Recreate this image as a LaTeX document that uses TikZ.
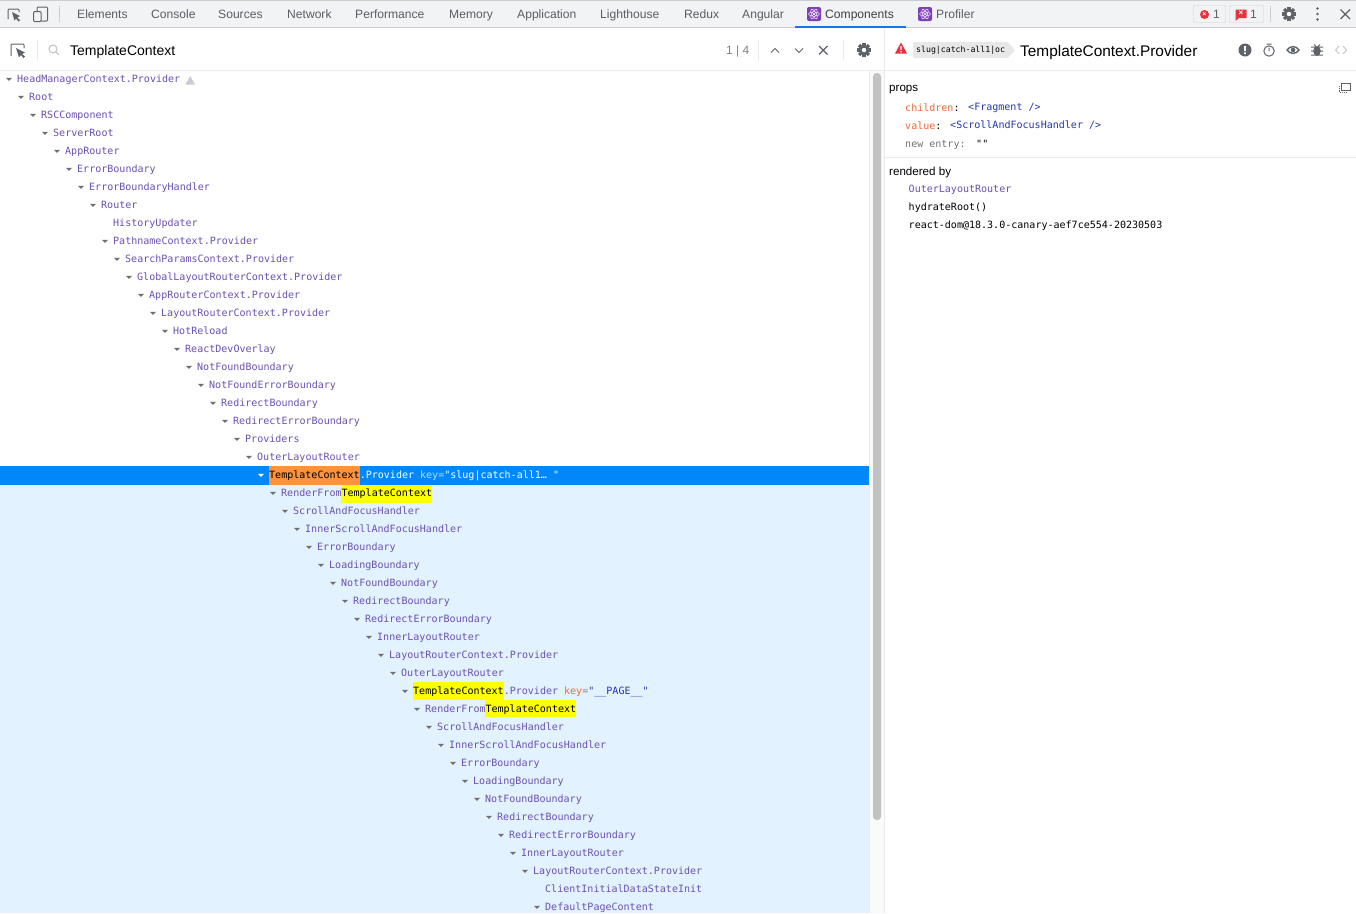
\documentclass[tikz,border=0pt]{standalone}
\usepackage{fontspec}
\setmainfont{Liberation Sans}
\newfontfamily\treefont{DejaVu Sans Mono}
\usetikzlibrary{shapes.geometric}
\definecolor{barbg}{HTML}{F1F3F4}
\definecolor{barline}{HTML}{CBCDD0}
\definecolor{paneline}{HTML}{EAEAEA}
\definecolor{tabtext}{HTML}{5A5F66}
\definecolor{tabblue}{HTML}{1A73E8}
\definecolor{iconcol}{HTML}{5F6368}
\definecolor{compcol}{HTML}{6A51B2}
\definecolor{selblue}{HTML}{0088FA}
\definecolor{sublight}{HTML}{E3F2FF}
\definecolor{hitorange}{HTML}{FB923C}
\definecolor{hityellow}{HTML}{FFFF00}
\definecolor{keycol}{HTML}{EE6A35}
\definecolor{valcol}{HTML}{2438A8}
\definecolor{keysel}{HTML}{B5DBFF}
\definecolor{treegrey}{HTML}{6E6E6E}
\definecolor{reactcol}{HTML}{7D3FB8}
\definecolor{warnred}{HTML}{E5333F}
\newcommand{\hit}[1]{\textcolor{black}{#1}}
\newcommand{\keyname}{\textcolor{keycol}{key}\textcolor{gray}{=}}
\tikzset{
  tabtxt/.style={anchor=base west,inner sep=0pt,text=tabtext,font=\fontsize{12.1}{14}\selectfont},
  treetxt/.style={anchor=base west,inner sep=0pt,text=compcol,font=\treefont\fontsize{10.03}{12}\selectfont},
  sidetxt/.style={anchor=base west,inner sep=0pt,text=black,font=\fontsize{11.6}{14}\selectfont},
  monotxt/.style={treetxt,text=black},
  reacticon/.pic={
    \fill[reactcol,rounded corners=2pt] (-7,-7) rectangle (7,7);
    \foreach \ang in {0,60,120}
      \draw[white!85!reactcol,line width=.6pt,rotate=\ang] (0,0) ellipse (5.5 and 2.2);
    \fill[white] (0,0) circle (1.1);
  },
  gearicon/.pic={
    \fill[iconcol] (0,0) circle (5);
    \foreach \ang in {0,45,...,315}
      \fill[iconcol,rotate=\ang] (-1.6,-7) rectangle (1.6,-4);
    \fill[white] (0,0) circle (2.2);
  }
}
\begin{document}
\begin{tikzpicture}[x=1pt,y=-1pt]
\useasboundingbox (0,0) rectangle (1356,913);
\fill[white] (0,0) rectangle (1356,913);
% tab bar
\fill[barbg] (0,0) rectangle (1356,27);
\fill[barline] (0,0) rectangle (1356,1);
\fill[barline] (0,27) rectangle (1356,28);
\fill[tabblue] (795,26) rectangle (906,28);
\draw[barline] (59,6) -- (59,22);
\draw[barline] (1270.5,6) -- (1270.5,22);
\foreach \tabx/\tablbl/\tabname in {77/Elements/elements,151/Console/console,218/Sources/sources,287/Network/network,355/Performance/performance,449/Memory/memory,517/Application/application,600/Lighthouse/lighthouse,684/Redux/redux,742/Angular/angular,936/Profiler/profiler}
  \node[tabtxt] (\tabname) at (\tabx,18) {\tablbl};
\node[tabtxt,text=black!75] (components) at (825,18) {Components};
\pic at (814,14) {reacticon};
\pic at (925,14) {reacticon};
% picker and device icons
\draw[iconcol,line width=1pt,rounded corners=1pt] (8,19) -- (8,9) -- (19,9) -- (19,12);
\fill[iconcol] (12,12) -- (20,16) -- (17,17.5) -- (20,20) -- (18.5,21.5) -- (16,18.5) -- (14.5,20.5) -- cycle;
\draw[iconcol,line width=1pt,rounded corners=1pt] (37,11) -- (37,7) -- (47.5,7) -- (47.5,21) -- (41,21);
\draw[iconcol,line width=1pt,rounded corners=1pt] (33.5,11.5) rectangle (41,21.5);
% error badges
\draw[barline,fill=barbg,rounded corners=1pt] (1193.5,5.5) rectangle (1225.5,22.5);
\draw[barline,fill=barbg,rounded corners=1pt] (1229.5,5.5) rectangle (1263.5,22.5);
\fill[warnred] (1204.5,14.5) circle (4.5);
\node[inner sep=0pt,text=white,font=\fontsize{7}{8}\selectfont\bfseries] (errx) at (1204.5,14.5) {×};
\node[tabtxt] (errnum) at (1213,18) {1};
\fill[warnred] (1235.5,9.5) rectangle (1246.5,18) (1235.5,18) -- (1235.5,21) -- (1239,18) -- cycle;
\node[inner sep=0pt,text=white,font=\fontsize{8}{8}\selectfont\bfseries] (warnx) at (1241,13.5) {×};
\node[tabtxt] (warnnum) at (1250,18) {1};
\pic at (1289,14) {gearicon};
\foreach \doty in {8.5,14,19.5}
  \fill[iconcol] (1317.5,\doty) circle (1.4);
\draw[iconcol,line width=1.3pt] (1340.5,9.5) -- (1350,19) (1350,9.5) -- (1340.5,19);
% search row
\fill[paneline] (0,70) rectangle (1356,71);
\fill[paneline] (884,28) rectangle (885,913);
\draw[paneline] (37.5,40) -- (37.5,60);
\draw[paneline] (758.5,40) -- (758.5,60);
\draw[paneline] (843.5,40) -- (843.5,60);
\draw[iconcol,line width=1pt,rounded corners=1pt] (11,56) -- (11,44) -- (24,44) -- (24,48);
\fill[iconcol] (16,48) -- (25,52.5) -- (22,54) -- (25,56.5) -- (23.5,58) -- (21,55) -- (19,57.5) -- cycle;
\draw[black!25,line width=1pt] (53,49) circle (4) (56,52) -- (59,55);
\node[anchor=base west,inner sep=0pt,font=\fontsize{14}{16}\selectfont] (searchtxt) at (70,55) {TemplateContext};
\node[anchor=base west,inner sep=0pt,text=black!50,font=\fontsize{12}{14}\selectfont] (matchnum) at (726,54) {1 | 4};
\draw[iconcol,line width=1pt] (771,52.5) -- (775,48.5) -- (779,52.5);
\draw[iconcol,line width=1pt] (795,48.5) -- (799,52.5) -- (803,48.5);
\draw[iconcol,line width=1.2pt] (819,46) -- (827.5,54.5) (827.5,46) -- (819,54.5);
\pic at (864,50) {gearicon};
% tree background
\fill[sublight] (0,485) rectangle (869,913);
\fill[selblue] (0,466) rectangle (869,485);
\fill[hitorange] (269,466) rectangle (360,485);
\fill[hityellow] (341,485) rectangle (432,503);
\fill[hityellow] (413,682) rectangle (504,700);
\fill[hityellow] (485,700) rectangle (576,717);
% scrollbar
\fill[black!2] (869,71) rectangle (884,913);
\draw[paneline] (869.5,71) -- (869.5,913);
\fill[black!24,rounded corners=3.5pt] (873,73) rectangle (881,820);
% tree rows
\foreach \dep/\lbl/\tricol [count=\row from 0] in {
  0/HeadManagerContext.Provider/treegrey,
  1/Root/treegrey,
  2/RSCComponent/treegrey,
  3/ServerRoot/treegrey,
  4/AppRouter/treegrey,
  5/ErrorBoundary/treegrey,
  6/ErrorBoundaryHandler/treegrey,
  7/Router/treegrey,
  8/HistoryUpdater/none,
  8/PathnameContext.Provider/treegrey,
  9/SearchParamsContext.Provider/treegrey,
  10/GlobalLayoutRouterContext.Provider/treegrey,
  11/AppRouterContext.Provider/treegrey,
  12/LayoutRouterContext.Provider/treegrey,
  13/HotReload/treegrey,
  14/ReactDevOverlay/treegrey,
  15/NotFoundBoundary/treegrey,
  16/NotFoundErrorBoundary/treegrey,
  17/RedirectBoundary/treegrey,
  18/RedirectErrorBoundary/treegrey,
  19/Providers/treegrey,
  20/OuterLayoutRouter/treegrey,
  21/\textcolor{white}{\hit{TemplateContext}.Provider \textcolor{keysel}{key=}"slug|catch-all1… "}/white,
  22/RenderFrom\hit{TemplateContext}/treegrey,
  23/ScrollAndFocusHandler/treegrey,
  24/InnerScrollAndFocusHandler/treegrey,
  25/ErrorBoundary/treegrey,
  26/LoadingBoundary/treegrey,
  27/NotFoundBoundary/treegrey,
  28/RedirectBoundary/treegrey,
  29/RedirectErrorBoundary/treegrey,
  30/InnerLayoutRouter/treegrey,
  31/LayoutRouterContext.Provider/treegrey,
  32/OuterLayoutRouter/treegrey,
  33/\hit{TemplateContext}.Provider \keyname\textcolor{valcol}{"\_\_PAGE\_\_"}/treegrey,
  34/RenderFrom\hit{TemplateContext}/treegrey,
  35/ScrollAndFocusHandler/treegrey,
  36/InnerScrollAndFocusHandler/treegrey,
  37/ErrorBoundary/treegrey,
  38/LoadingBoundary/treegrey,
  39/NotFoundBoundary/treegrey,
  40/RedirectBoundary/treegrey,
  41/RedirectErrorBoundary/treegrey,
  42/InnerLayoutRouter/treegrey,
  43/LayoutRouterContext.Provider/treegrey,
  44/ClientInitialDataStateInit/none,
  44/DefaultPageContent/treegrey}{
  \pgfmathsetmacro{\tx}{17+12*\dep}
  \pgfmathsetmacro{\ty}{82.5+18*\row}
  \node[treetxt] (row\row) at (\tx,\ty) {\lbl};
  \path[fill=\tricol] (\tx-11,\ty-4.7) -- (\tx-5,\ty-4.7) -- (\tx-8,\ty-1.5) -- cycle;
}
\fill[black!20] (190.2,76) -- (195,84.5) -- (185.4,84.5) -- cycle;
% right pane header
\fill[warnred] (901,42.5) -- (907,53.5) -- (895,53.5) -- cycle;
\fill[white] (900.4,46) rectangle (901.6,50) (900.4,51) rectangle (901.6,52.3);
\fill[black!9,rounded corners=1pt] (913,42) -- (1008,42) -- (1015,50) -- (1008,58) -- (913,58) -- cycle;
\node[anchor=base west,inner sep=0pt,font=\treefont\fontsize{8.2}{10}\selectfont] (crumb) at (916,52.5) {slug|catch-all1|oc};
\node[anchor=base west,inner sep=0pt,font=\fontsize{15.4}{18}\selectfont] (title) at (1020,56) {TemplateContext.Provider};
\fill[iconcol] (1245,50) circle (6.5);
\fill[white] (1244.1,46) rectangle (1245.9,51) (1244.1,52.3) rectangle (1245.9,54);
\draw[iconcol,line width=1pt] (1269,51) circle (5.2) (1269,51) -- (1269,47.5) (1266.5,44) -- (1271.5,44);
\draw[iconcol,line width=1.4pt] (1287,50) .. controls (1290,45.5) and (1296,45.5) .. (1299,50) .. controls (1296,54.5) and (1290,54.5) .. (1287,50) -- cycle;
\fill[iconcol] (1293,50) circle (2.3);
\fill[iconcol] (1317,51) ellipse (3.8 and 4.8);
\draw[iconcol,line width=1pt] (1311,47) -- (1323,47) (1311,51) -- (1323,51) (1311,55) -- (1323,55) (1314,44.5) -- (1316,46.5) (1320,44.5) -- (1318,46.5);
\draw[black!22,line width=1pt] (1339,46) -- (1335.5,50) -- (1339,54) (1343,46) -- (1346.5,50) -- (1343,54);
% props
\node[sidetxt] (props) at (889,91) {props};
\draw[iconcol,line width=.8pt] (1341.5,83.5) rectangle (1350.5,90.5);
\draw[iconcol,line width=.8pt,densely dotted] (1339.5,86) -- (1339.5,92.5) -- (1347,92.5);
\node[monotxt] (childkey) at (905,111) {\textcolor{keycol}{children}:};
\node[monotxt,text=valcol] (childval) at (968,110.5) {<Fragment />};
\node[monotxt] (valkey) at (905,129) {\textcolor{keycol}{value}:};
\node[monotxt,text=valcol] (valval) at (950,128.5) {<ScrollAndFocusHandler />};
\node[monotxt,text=black!55] (newkey) at (905,147.5) {new entry:};
\node[monotxt] (newval) at (976,147.5) {""};
\fill[paneline] (885,157) rectangle (1356,158);
% rendered by
\node[sidetxt] (rendered) at (889,175) {rendered by};
\node[treetxt] (ownerrow) at (908.5,192.5) {OuterLayoutRouter};
\node[monotxt] (hydrate) at (908.5,210.5) {hydrateRoot()};
\node[monotxt] (reactver) at (908.5,228.5) {react-dom@18.3.0-canary-aef7ce554-20230503};
\end{tikzpicture}
\end{document}
